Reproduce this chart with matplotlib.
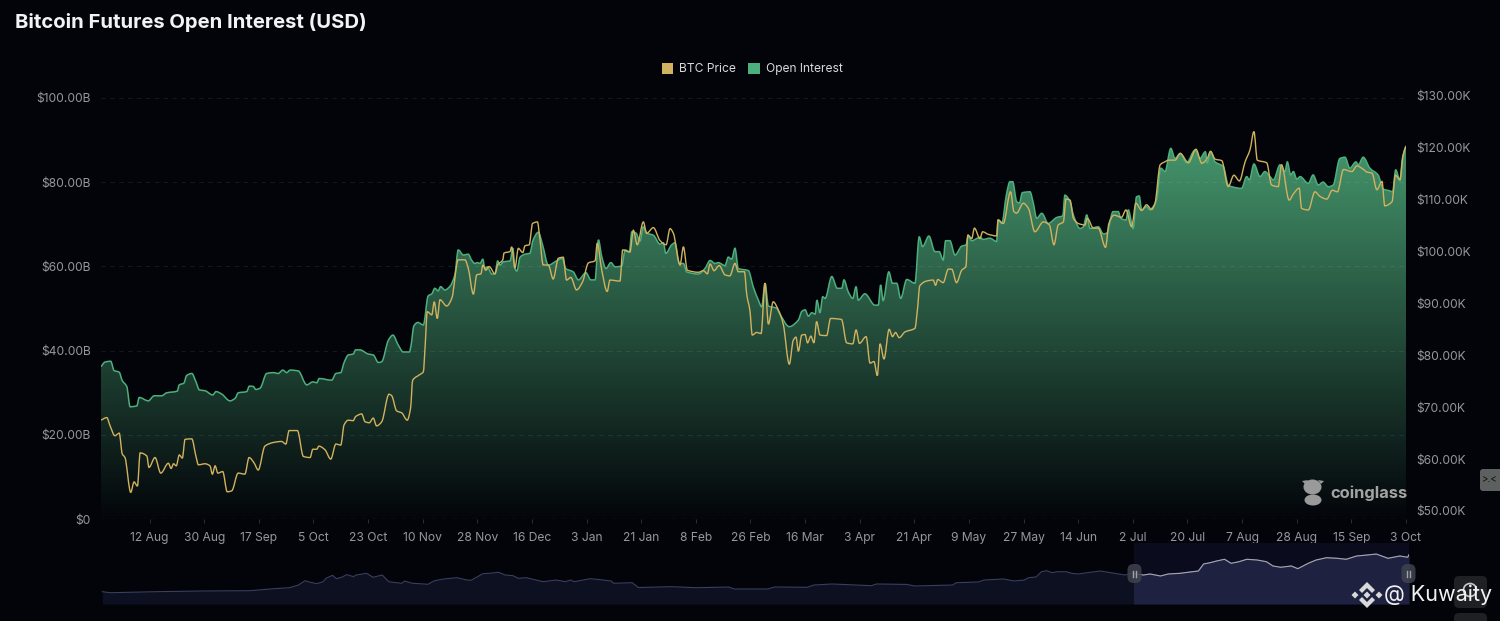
import matplotlib
matplotlib.use('Agg')
import matplotlib.pyplot as plt
import numpy as np
from matplotlib.patches import Circle, Ellipse, FancyBboxPatch, PathPatch, Patch, Polygon, Rectangle
from matplotlib.path import Path

plt.rcParams['font.family'] = ['Inter', 'DejaVu Sans']

# x values are days from the left edge of the chart
tick_labels = ['12 Aug', '30 Aug', '17 Sep', '5 Oct', '23 Oct', '10 Nov', '28 Nov', '16 Dec',
               '3 Jan', '21 Jan', '8 Feb', '26 Feb', '16 Mar', '3 Apr', '21 Apr', '9 May',
               '27 May', '14 Jun', '2 Jul', '20 Jul', '7 Aug', '28 Aug', '15 Sep', '3 Oct']
tick_days = [16, 34, 52, 70, 88, 106, 124, 142, 160, 178, 196, 214, 232, 250, 268, 286, 304, 322,
             340, 358, 376, 394, 412, 430]

# open interest, billions of USD
oi_days = [0, 1.3, 3.2, 4.3, 6.0, 7.0, 8.5, 9.6, 11.8, 12.6, 15.6, 17.5, 20.0, 21.6, 25.1, 25.8, 27.3, 28.2,
           29.9, 31.3, 32.4, 34.3, 36.8, 37.9, 39.8, 42.5, 44.2, 45.2, 48.0, 48.9, 50.2, 51.0, 52.4, 54.6,
           56.8, 58.4, 59.9, 61.2, 62.3, 65.0, 67.8, 69.8, 71.1, 71.9, 76.0, 77.4, 79.0, 80.1, 81.5, 83.1,
           83.9, 85.3, 88.1, 89.7, 91.4, 92.5, 94.7, 96.2, 97.9, 99.6, 101.6, 102.1, 103.1, 104.4, 106.2,
           107.8, 109.0, 110.0, 111.1, 111.9, 113.3, 115.0, 116.6, 117.7, 119.4, 121.0, 122.1, 123.2, 124.0,
           124.9, 125.8, 126.5, 127.3, 128.8, 129.8, 130.7, 131.5, 132.6, 134.8, 135.7, 136.4, 137.0, 138.1,
           139.7, 141.3, 142.4, 144.1, 145.5, 147.4, 150.1, 152.0, 153.1, 155.6, 157.3, 159.8, 161.4, 162.8,
           163.9, 165.0, 166.4, 168.0, 169.4, 171.6, 172.7, 174.1, 174.9, 176.3, 177.6, 178.7, 179.8, 182.0,
           184.2, 185.3, 186.1, 188.0, 189.1, 190.6, 191.9, 193.0, 196.8, 199.0, 200.7, 202.3, 203.4, 205.6,
           206.7, 207.8, 208.9, 210.0, 213.3, 214.9, 216.6, 217.7, 218.8, 219.9, 222.6, 223.7, 226.8, 229.8,
           230.9, 232.0, 233.1, 234.2, 235.3, 235.9, 236.9, 237.8, 238.6, 240.8, 242.6, 244.1, 244.8, 246.2,
           247.7, 248.8, 249.5, 251.7, 255.0, 256.1, 256.9, 257.7, 259.6, 260.8, 262.2, 263.5, 265.5, 268.2,
           269.6, 270.7, 272.8, 274.8, 276.2, 277.5, 278.3, 279.7, 281.4, 283.6, 285.0, 285.8, 286.9, 289.6,
           290.7, 292.9, 295.1, 295.6, 296.8, 298.4, 299.5, 300.4, 301.7, 302.6, 303.6, 306.1, 307.2, 308.3,
           310.0, 312.1, 314.9, 316.9, 317.6, 319.3, 320.4, 322.6, 323.7, 324.8, 325.9, 328.6, 330.3, 331.4,
           333.5, 335.2, 336.0, 337.7, 338.5, 340.1, 341.2, 342.1, 342.9, 344.5, 345.6, 346.7, 347.8, 349.2,
           350.6, 352.5, 353.9, 355.6, 357.7, 360.5, 362.1, 363.9, 364.5, 365.6, 367.1, 369.8, 371.4, 372.6,
           375.8, 377.5, 378.4, 379.9, 381.9, 383.5, 385.2, 386.3, 388.5, 390.1, 390.9, 392.0, 392.9, 394.0,
           395.1, 397.8, 399.4, 401.1, 402.7, 404.4, 406.0, 408.2, 409.9, 411.5, 413.5, 414.3, 415.9, 418.1,
           420.8, 422.5, 424.4, 425.6, 426.6, 428.0, 428.9, 430.0]
oi_values = [36.2, 37.3, 37.5, 35.3, 34.9, 32.9, 31.5, 26.7, 26.9, 28.9, 28.1, 29.3, 29.3, 30.0, 30.4, 31.9, 32.3, 34.1,
             34.6, 32.6, 30.7, 30.5, 29.5, 30.3, 29.7, 28.1, 28.7, 30.0, 30.3, 31.6, 31.5, 30.8, 31.1, 34.6,
             34.8, 34.6, 35.4, 34.8, 35.4, 35.2, 31.9, 32.6, 32.4, 33.4, 33.0, 34.6, 34.8, 37.2, 39.0, 39.2,
             40.2, 40.2, 39.2, 39.0, 37.2, 37.4, 42.5, 43.7, 41.4, 39.7, 39.7, 41.0, 45.9, 46.7, 46.1,
             53.0, 53.5, 54.8, 54.2, 55.2, 54.4, 55.3, 58.0, 63.9, 62.7, 62.9, 61.5, 60.7, 60.9,
             60.7, 61.7, 59.5, 59.9, 58.2, 58.2, 61.3, 60.3, 61.1, 61.3, 64.3, 59.5, 58.9, 62.2,
             62.9, 63.1, 66.3, 68.1, 65.1, 60.3, 61.3, 61.9, 59.5, 58.7, 56.8, 58.5, 56.8, 56.8,
             66.3, 62.3, 59.5, 60.9, 59.9, 60.1, 63.9, 63.5, 68.2, 67.9, 66.0, 69.4, 67.9, 67.4,
             65.3, 65.6, 63.1, 65.1, 65.6, 60.7, 60.7, 58.7, 58.2, 59.5, 61.4, 60.7, 60.9, 60.2,
             62.2, 61.7, 64.3, 59.5, 59.0, 55.2, 52.0, 50.4, 56.0, 50.6, 50.1, 48.7, 45.7, 47.3,
             49.3, 49.7, 48.2, 49.0, 48.7, 52.0, 49.0, 52.8, 52.4, 57.6, 54.8, 54.8, 56.8, 54.0,
             52.4, 55.2, 52.0, 53.5, 50.8, 50.8, 55.6, 51.9, 58.7, 56.0, 56.0, 52.4, 56.9, 56.0,
             67.0, 64.7, 67.2, 63.5, 63.5, 61.5, 66.1, 66.1, 62.7, 64.8, 65.1, 67.2, 66.1, 66.9,
             66.4, 66.7, 65.9, 71.0, 70.2, 77.3, 80.1, 80.1, 75.4, 75.0, 77.5, 77.7, 75.0, 71.4,
             72.6, 70.2, 71.6, 72.0, 76.9, 75.4, 72.2, 69.0, 69.4, 72.2, 69.0, 69.4, 67.7, 67.9,
             73.0, 73.0, 71.4, 71.0, 73.4, 69.0, 76.5, 76.7, 73.4, 74.2, 73.4, 74.2, 75.8, 83.3,
             82.5, 88.0, 85.6, 86.8, 84.6, 87.6, 85.6, 87.2, 84.5, 87.2, 84.8, 83.7, 79.3, 78.9,
             78.5, 81.3, 80.5, 84.3, 81.3, 82.5, 81.3, 80.5, 84.1, 82.5, 84.8, 81.7, 82.5, 80.7,
             81.3, 79.7, 81.7, 79.3, 80.0, 78.9, 79.3, 85.6, 85.9, 83.3, 84.8, 84.1, 85.9, 83.3,
             81.7, 78.3, 78.0, 77.7, 82.9, 80.5, 86.0, 88.6]

# BTC price, thousands of USD
btc_days = [0, 1.9, 3.0, 4.6, 6.0, 7.0, 7.9, 9.8, 10.9, 12.0, 12.9, 15.1, 15.8, 17.8, 19.7, 22.2, 23.1, 23.9, 24.8,
            25.8, 26.8, 27.7, 29.9, 31.3, 32.1, 34.3, 35.9, 36.7, 37.6, 38.5, 40.1, 41.6, 43.1, 45.2, 47.4, 48.8,
            50.4, 51.8, 54.0, 56.8, 59.5, 60.9, 62.0, 64.7, 66.7, 68.9, 69.8, 71.1, 71.8, 73.8, 75.7, 77.4, 79.0,
            80.1, 81.5, 83.1, 83.9, 85.9, 87.0, 88.4, 89.7, 90.8, 92.5, 94.9, 95.8, 97.4, 99.1, 100.9, 102.0, 102.7,
            105.1, 106.2, 106.8, 107.5, 109.0, 109.8, 110.8, 111.7, 113.9, 115.6, 117.7, 119.9, 121.0, 122.7, 123.8,
            125.2, 125.8, 126.8, 127.9, 129.8, 130.7, 132.4, 132.8, 134.8, 135.3, 136.4, 137.5, 139.0, 139.7, 141.1,
            142.2, 143.8, 144.6, 145.7, 147.4, 149.0, 150.7, 152.3, 153.4, 154.8, 156.7, 158.7, 160.6, 162.8, 163.5,
            165.0, 166.8, 167.7, 171.0, 171.9, 174.3, 175.4, 176.7, 178.7, 179.8, 182.0, 184.2, 186.2, 187.5, 188.6,
            190.8, 191.9, 193.2, 196.8, 198.5, 199.8, 200.7, 202.0, 203.7, 205.6, 207.2, 208.9, 210.0, 212.0, 212.8,
            213.8, 214.6, 216.0, 217.5, 218.8, 219.9, 221.5, 223.2, 224.8, 226.8, 228.1, 229.0, 229.8, 230.9, 232.0,
            232.8, 233.9, 234.9, 235.8, 236.9, 239.1, 240.4, 244.0, 245.7, 247.7, 248.8, 249.9, 252.1, 253.4, 254.7,
            255.8, 256.7, 258.0, 259.7, 260.8, 261.8, 263.0, 264.9, 268.2, 269.0, 269.8, 272.0, 274.2, 275.0, 275.7,
            277.5, 279.2, 280.3, 281.9, 283.6, 285.0, 285.6, 286.9, 287.8, 289.6, 290.5, 292.4, 295.1, 295.6, 297.3,
            299.7, 300.8, 301.7, 303.9, 305.6, 307.7, 310.5, 312.5, 314.0, 315.4, 317.1, 318.0, 319.3, 320.4, 322.0,
            324.2, 325.0, 327.0, 328.6, 331.0, 332.1, 333.8, 336.3, 337.7, 339.6, 341.0, 342.9, 344.5, 346.2, 347.3,
            349.0, 350.6, 351.7, 353.9, 355.6, 358.3, 360.8, 362.7, 364.4, 365.6, 367.1, 369.3, 371.4, 373.3, 375.1,
            377.0, 378.6, 379.9, 381.0, 384.1, 385.7, 387.9, 389.0, 391.5, 392.9, 394.8, 395.6, 397.8, 400.0, 401.7,
            403.9, 405.7, 407.4, 409.4, 412.2, 413.8, 416.0, 417.1, 418.8, 420.4, 422.1, 423.0, 425.4, 426.5, 428.0,
            429.0, 430.0]
btc_values = [67.5, 68.0, 66.4, 64.5, 65.0, 61.0, 60.3, 53.6, 55.6, 54.8, 61.2, 60.6, 58.4, 60.3, 57.3, 59.2, 58.2, 59.1, 58.7,
              60.8, 60.2, 63.8, 63.9, 60.5, 58.9, 59.1, 58.7, 57.1, 58.7, 57.3, 57.6, 53.7, 53.9, 57.3, 57.1, 60.3,
              59.3, 57.9, 62.5, 63.2, 63.4, 62.9, 65.5, 65.5, 60.5, 60.3, 61.9, 61.9, 62.5, 61.8, 60.0, 62.9, 62.7,
              66.6, 67.5, 67.4, 68.2, 68.7, 67.2, 67.0, 67.9, 66.4, 67.2, 72.5, 72.2, 69.3, 68.9, 67.5, 69.8, 75.2,
              76.3, 76.8, 81.7, 88.4, 87.8, 90.3, 87.1, 90.7, 89.5, 91.0, 98.4, 98.4, 96.8, 91.8, 95.5,
              95.7, 97.4, 96.4, 97.1, 95.7, 97.4, 98.4, 99.7, 100.0, 100.9, 96.8, 100.6, 99.8, 101.1, 101.3,
              105.4, 105.7, 102.5, 97.4, 97.4, 94.7, 98.7, 98.9, 94.5, 95.0, 92.6, 94.2, 97.8, 98.2, 101.6,
              96.4, 92.3, 94.5, 94.3, 100.3, 99.9, 104.1, 101.3, 105.7, 103.5, 104.6, 102.1, 101.3, 104.4, 103.5,
              97.4, 100.9, 96.4, 96.0, 96.3, 95.7, 97.6, 96.3, 97.3, 95.5, 95.3, 97.7, 96.1, 96.1, 91.6,
              88.7, 83.9, 84.4, 84.2, 93.9, 86.0, 90.3, 88.7, 86.0, 78.3, 82.9, 83.5, 80.8, 83.9, 84.0,
              82.4, 83.7, 82.4, 86.5, 83.9, 83.8, 87.1, 86.9, 82.4, 82.2, 84.9, 82.3, 83.6, 78.5, 78.8,
              76.1, 82.2, 79.3, 85.0, 83.6, 84.4, 83.4, 84.5, 85.2, 88.7, 93.4, 94.3, 94.5, 93.5, 94.6,
              94.0, 96.6, 96.6, 94.0, 96.4, 97.1, 103.2, 102.5, 104.5, 102.5, 103.8, 103.3, 103.0, 106.1, 105.4,
              111.5, 107.7, 107.4, 109.3, 108.3, 103.8, 105.7, 105.1, 101.3, 105.1, 105.7, 110.1, 109.9, 106.4, 105.4,
              105.1, 106.4, 104.5, 104.5, 100.8, 105.4, 107.0, 106.6, 108.0, 104.8, 109.3, 107.9, 109.0, 108.1, 109.3,
              116.7, 117.3, 117.6, 117.6, 118.9, 117.1, 119.7, 117.0, 117.8, 119.3, 117.8, 117.5, 112.5, 114.7, 113.6,
              117.3, 119.6, 123.1, 117.6, 117.1, 112.8, 112.5, 116.7, 109.9, 111.1, 112.2, 108.3, 108.0, 111.5, 110.6,
              110.1, 111.8, 111.5, 115.8, 115.4, 116.5, 115.8, 115.3, 115.1, 111.9, 113.5, 108.8, 109.6, 114.7, 113.8,
              118.4, 120.3]

# range slider strip: position and height, both in percent of the strip
overview_pos = [0.1, 0.7, 4.3, 7.6, 11.4, 13.2, 14.4, 15.1, 15.6, 16.0, 16.5, 17.0, 17.2, 17.7, 18.0, 18.4, 18.8, 19.3,
                19.5, 20.3, 20.8, 21.5, 22.0, 22.3, 23.0, 23.2, 23.8, 25.0, 25.5, 26.2, 27.2, 28.0, 28.3, 29.2, 29.7,
                30.4, 30.9, 31.5, 31.9, 32.5, 33.8, 34.8, 35.5, 35.9, 36.2, 37.4, 38.2, 39.0, 39.2, 40.6, 41.1, 43.6,
                45.5, 48.0, 48.4, 51.0, 51.5, 54.0, 54.5, 55.9, 58.9, 59.3, 61.6, 62.2, 65.1, 65.4, 67.1, 67.5, 69.0,
                69.8, 70.6, 70.9, 71.5, 71.9, 72.3, 72.7, 73.1, 73.8, 74.2, 74.7, 75.4, 76.4, 77.2, 78.3, 78.8, 79.7,
                80.2, 81.0, 81.6, 82.5, 83.1, 83.9, 84.3, 84.8, 85.3, 85.9, 86.4, 87.0, 87.6, 88.4, 89.1, 89.6, 90.2,
                91.0, 91.5, 92.3, 92.9, 93.7, 94.5, 95.2, 96.0, 96.8, 97.5, 98.4, 99.3, 99.9, 100.0]
overview_level = [20.2, 18.5, 20.2, 21.3, 21.8, 25.1, 26.7, 31.1, 38.2, 35.6, 33.3, 36.6, 42.1, 47.0, 41.5, 43.8, 48.1, 44.8,
                  47.5, 50.3, 43.8, 47.5, 36.6, 35.6, 34.0, 37.7, 34.0, 32.3, 38.2, 41.0, 43.1, 39.3, 38.9, 49.7, 50.3,
                  52.0, 47.5, 46.4, 42.1, 43.1, 36.6, 39.3, 36.6, 39.3, 36.6, 41.5, 39.8, 37.7, 33.9, 34.9, 27.0, 28.4,
                  26.7, 27.8, 24.6, 24.6, 27.9, 27.4, 31.1, 32.8, 30.0, 32.8, 32.1, 29.5, 31.1, 34.9, 36.1, 39.3, 41.0,
                  37.7, 39.3, 43.1, 44.3, 52.9, 54.6, 51.3, 52.9, 52.9, 50.3, 49.2, 51.3, 54.1, 51.3, 47.5, 50.3, 47.5,
                  49.2, 45.9, 49.2, 50.3, 52.0, 54.1, 65.6, 67.7, 70.5, 73.3, 66.7, 69.3, 73.3, 72.1, 69.3, 62.3, 60.2,
                  62.3, 57.9, 66.7, 72.1, 75.9, 74.9, 73.3, 78.7, 80.3, 81.9, 74.9, 78.7, 76.6, 80.9]
selection_start = 79.0

left_ticks = [0, 20, 40, 60, 80, 100]
left_labels = ['$0', '$20.00B', '$40.00B', '$60.00B', '$80.00B', '$100.00B']
right_ticks = [50, 60, 70, 80, 90, 100, 110, 120, 130]
right_labels = ['$50.00K', '$60.00K', '$70.00K', '$80.00K', '$90.00K', '$100.00K', '$110.00K', '$120.00K', '$130.00K']

BG = '#03040a'
GOLD = '#d2b25e'
GREEN = '#4caf7d'
TEXT = '#94979c'


def smooth_path(x, y):
    # monotone cubic through the read points, the source chart draws smooth lines
    x = np.asarray(x, float)
    y = np.asarray(y, float)
    d = np.diff(y) / np.diff(x)
    m = np.zeros(len(x))
    for i in range(1, len(x) - 1):
        if d[i - 1] * d[i] > 0:
            m[i] = 2 * d[i - 1] * d[i] / (d[i - 1] + d[i])
    m[0], m[-1] = d[0], d[-1]
    verts = [(x[0], y[0])]
    codes = [Path.MOVETO]
    for i in range(len(x) - 1):
        h = (x[i + 1] - x[i]) / 3
        verts += [(x[i] + h, y[i] + m[i] * h), (x[i + 1] - h, y[i + 1] - m[i + 1] * h), (x[i + 1], y[i + 1])]
        codes += [Path.CURVE4] * 3
    return verts, codes


def draw_main(fig):
    ax = fig.add_axes([101 / 1500, (621 - 519.3) / 621, 1305 / 1500, (519.3 - 90) / 621])
    ax.set_facecolor('none')
    ax.set_xlim(0, 430)
    ax.set_ylim(0, 101.85)

    ax.set_yticks(left_ticks)
    ax.set_yticklabels(left_labels)
    ax.set_xticks(tick_days)
    ax.set_xticklabels(tick_labels)
    ax.tick_params(axis='y', length=0, pad=7.5, labelsize=8.7, labelcolor=TEXT)
    ax.tick_params(axis='x', length=3, width=0.6, color='#33363c', pad=6, labelsize=8.7, labelcolor=TEXT)
    for s in ax.spines.values():
        s.set_visible(False)
    for v in left_ticks[1:]:
        ax.axhline(v, color=(1, 1, 1, 0.08), lw=0.8, dashes=(4, 4), zorder=3)
    ax.axhline(0, color=(1, 1, 1, 0.18), lw=0.9, dashes=(4, 4), zorder=3)

    # fill under open interest, colour goes with height not with the curve
    verts, codes = smooth_path(oi_days, oi_values)
    fill_path = Path(verts + [(oi_days[-1], 0), (oi_days[0], 0), (oi_days[0], 0)],
                     codes + [Path.LINETO, Path.LINETO, Path.CLOSEPOLY])
    clip = PathPatch(fill_path, transform=ax.transData, facecolor='none', edgecolor='none')
    ax.add_patch(clip)
    t = np.linspace(1, 0, 300)[:, None, None]
    top = np.array([0x44, 0x94, 0x6b])[None, None, :] / 255
    bottom = np.array([0x03, 0x05, 0x0a])[None, None, :] / 255
    grad = bottom + (top - bottom) * t
    im = ax.imshow(grad, extent=[0, 430, 0, max(oi_values)], aspect='auto', zorder=2, interpolation='bilinear')
    im.set_clip_path(clip)
    ax.set_xlim(0, 430)
    ax.set_ylim(0, 101.85)
    ax.add_patch(PathPatch(Path(verts, codes), facecolor='none', edgecolor=GREEN, lw=1.1, zorder=4))

    ax2 = ax.twinx()
    ax2.set_facecolor('none')
    ax2.set_ylim(50 + (511 - 519.3) / 5.19, 50 + (511 - 90) / 5.19)
    ax2.set_yticks(right_ticks)
    ax2.set_yticklabels(right_labels)
    ax2.tick_params(axis='y', length=0, pad=7.5, labelsize=8.7, labelcolor=TEXT)
    for s in ax2.spines.values():
        s.set_visible(False)
    verts, codes = smooth_path(btc_days, btc_values)
    ax2.add_patch(PathPatch(Path(verts, codes), facecolor='none', edgecolor=GOLD, lw=1.0, zorder=5))


def draw_overview(fig):
    ov = fig.add_axes([101 / 1500, (621 - 604) / 621, 1308 / 1500, 61 / 621])
    ov.set_xlim(0, 100)
    ov.set_ylim(0, 100)
    ov.axis('off')
    band = Rectangle((selection_start, 0), 100 - selection_start, 100, facecolor='#0a0c1e', edgecolor='none', zorder=1)
    ov.add_patch(band)
    ov.fill_between(overview_pos, overview_level, 0, color='#0c1020', lw=0, zorder=2)
    sel = ov.fill_between(overview_pos, overview_level, 0, color='#1e2140', lw=0, zorder=3)
    sel.set_clip_path(band)
    ov.plot(overview_pos, overview_level, color='#3a3f5e', lw=0.8, zorder=4)
    line, = ov.plot(overview_pos, overview_level, color='#a5a6b0', lw=0.8, zorder=5)
    line.set_clip_path(band)


def draw_overlay(fig):
    # things sitting in page pixels: handles, logos, side buttons
    top = fig.add_axes([0, 0, 1, 1], zorder=10)
    top.set_xlim(0, 1500)
    top.set_ylim(621, 0)
    top.axis('off')

    for cx in [1134.5, 1408.5]:
        top.add_patch(FancyBboxPatch((cx - 5, 566), 10, 15, boxstyle='round,pad=2,rounding_size=6',
                                     facecolor='#40434e', edgecolor='none', alpha=0.85))
        top.plot([cx - 1.5, cx - 1.5], [571, 577], color='#a0a2a8', lw=1)
        top.plot([cx + 1.5, cx + 1.5], [571, 577], color='#a0a2a8', lw=1)

    # coinglass watermark
    logo = '#9a9a9a'
    top.add_patch(Ellipse((1312.5, 487), 18, 15, facecolor=logo))
    top.add_patch(Ellipse((1313, 500), 17, 11, facecolor=logo))
    top.add_patch(Polygon([(1302, 481), (1308, 480), (1305, 484)], facecolor=logo))
    top.add_patch(Polygon([(1324, 481), (1318, 480), (1321, 484)], facecolor=logo))
    top.text(1330, 493.5, 'coinglass', color='#a3a3a3', fontsize=11.9, fontweight='bold', va='center', ha='left')

    # side tab and settings button
    top.add_patch(FancyBboxPatch((1481, 470), 30, 20, boxstyle='round,pad=1,rounding_size=3',
                                 facecolor='#5c605e', edgecolor='none'))
    top.text(1490, 479.5, '>.<', color='#111111', fontsize=7, ha='center', va='center')
    top.add_patch(FancyBboxPatch((1455, 577), 31, 30, boxstyle='round,pad=1,rounding_size=5',
                                 facecolor='#1e2024', edgecolor='none'))
    top.add_patch(FancyBboxPatch((1455, 614), 31, 12, boxstyle='round,pad=1,rounding_size=5',
                                 facecolor='#1e2024', edgecolor='none'))
    top.add_patch(Circle((1470, 590), 6.5, facecolor='none', edgecolor='#c9c9c9', lw=1.2))

    # binance style mark and handle
    w = '#d9d9d9'
    top.add_patch(Polygon([(1367, 582), (1375, 590), (1372, 593), (1367, 588), (1362, 593), (1359, 590)], facecolor=w))
    top.add_patch(Polygon([(1367, 608), (1375, 600), (1372, 597), (1367, 602), (1362, 597), (1359, 600)], facecolor=w))
    for cx, r in [(1355, 3.5), (1367, 3.5), (1379, 3.5)]:
        top.add_patch(Polygon([(cx, 595 - r), (cx + r, 595), (cx, 595 + r), (cx - r, 595)], facecolor=w))
    top.text(1384, 595, '@ Kuwaity', color='#f2f2f2', fontsize=15.5, va='center', ha='left')


def main():
    fig = plt.figure(figsize=(15, 6.21), dpi=100, facecolor=BG)
    draw_main(fig)
    draw_overview(fig)
    draw_overlay(fig)

    fig.text(15 / 1500, 1 - 22 / 621, 'Bitcoin Futures Open Interest (USD)', color='#f2f3f5',
             fontsize=14.6, fontweight='bold', va='center', ha='left')

    handles = [Patch(facecolor=GOLD, edgecolor='none', label='BTC Price'),
               Patch(facecolor=GREEN, edgecolor='none', label='Open Interest')]
    leg = fig.legend(handles=handles, loc='center', bbox_to_anchor=(752 / 1500, 1 - 69 / 621), ncols=2,
                     frameon=False, fontsize=8.7, labelcolor='#d6d7d9', handlelength=0.95, handleheight=1.0,
                     handletextpad=0.5, columnspacing=1.0)
    leg.set_zorder(20)

    fig.savefig('out.png', dpi=100, facecolor=BG)


if __name__ == "__main__":
    main()
